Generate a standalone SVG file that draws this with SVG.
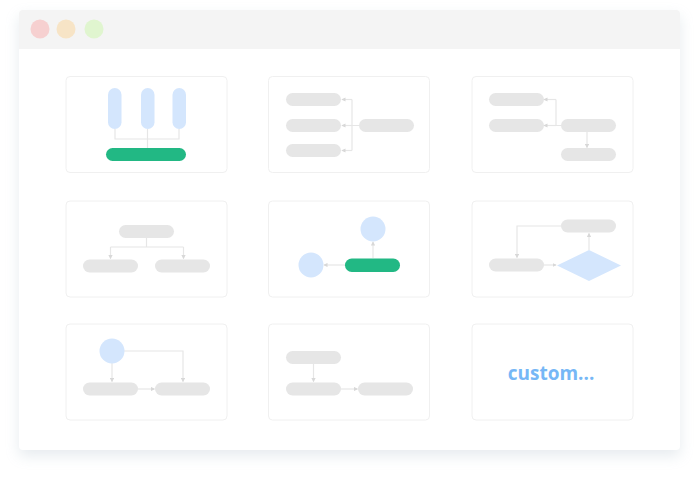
<svg xmlns="http://www.w3.org/2000/svg" width="700" height="479" viewBox="0 0 700 479">
<defs>
<filter id="sh" x="-10%" y="-10%" width="120%" height="130%">
<feDropShadow dx="0" dy="6" stdDeviation="7" flood-color="#c9d3dc" flood-opacity="0.45"/>
</filter>
<marker id="ar" viewBox="0 0 6 6" refX="5" refY="3" markerWidth="3.5" markerHeight="3.5" orient="auto">
<path d="M0,0 L6,3 L0,6 z" fill="#d8d8d8"/>
</marker>
<style>
.panel{fill:#fff;stroke:#f0f0f0;stroke-width:1}
.pill{fill:#e6e6e6}
.blue{fill:#d4e6fd}
.green{fill:#22b884}
.cn{fill:none;stroke:#e6e6e6;stroke-width:1.2}
.ca{fill:none;stroke:#e6e6e6;stroke-width:1.2;marker-end:url(#ar)}
</style>
</defs>
<rect width="700" height="479" fill="#fff"/>
<g id="window">
<rect x="19" y="10" width="661" height="440" rx="4" fill="#fff" filter="url(#sh)"/>
<path d="M23,10 H676 A4,4 0 0 1 680,14 V49 H19 V14 A4,4 0 0 1 23,10 z" fill="#f4f4f4"/>
<circle cx="40" cy="29" r="9.5" fill="#f6d0d0"/>
<circle cx="66" cy="29" r="9.5" fill="#f7e4c6"/>
<circle cx="94" cy="29" r="9.5" fill="#e0f5cf"/>
</g>
<g id="panels">
<rect class="panel" x="66" y="76.5" width="161" height="96" rx="4"/>
<rect class="panel" x="268.5" y="76.5" width="161" height="96" rx="4"/>
<rect class="panel" x="472" y="76.5" width="161" height="96" rx="4"/>
<rect class="panel" x="66" y="201" width="161" height="96" rx="4"/>
<rect class="panel" x="268.5" y="201" width="161" height="96" rx="4"/>
<rect class="panel" x="472" y="201" width="161" height="96" rx="4"/>
<rect class="panel" x="66" y="324" width="161" height="96" rx="4"/>
<rect class="panel" x="268.5" y="324" width="161" height="96" rx="4"/>
<rect class="panel" x="472" y="324" width="161" height="96" rx="4"/>
</g>
<g id="connectors">
<path class="cn" d="M115,129 V139 H179 V129 M147.5,129 V148"/>
<path class="cn" d="M359,125.5 H352 M352,99.5 V150.5"/>
<path class="ca" d="M352,99.5 H342"/>
<path class="ca" d="M352,125.5 H342"/>
<path class="ca" d="M352,150.5 H342"/>
<path class="cn" d="M561,125.5 H556 V99.5"/>
<path class="ca" d="M556,99.5 H544"/>
<path class="ca" d="M556,125.5 H544"/>
<path class="ca" d="M587,132 V147.5"/>
<path class="cn" d="M146.5,238 V247 M110.5,247 H183.5"/>
<path class="ca" d="M110.5,247 V258.5"/>
<path class="ca" d="M183.5,247 V258.5"/>
<path class="ca" d="M345,265 H324"/>
<path class="ca" d="M373,258 V242"/>
<path class="ca" d="M561,226 H517 V257.5"/>
<path class="ca" d="M589,250 V233.5"/>
<path class="ca" d="M543,265 H556"/>
<path class="ca" d="M112,363 V381.5"/>
<path class="ca" d="M124,351 H183 V381.5"/>
<path class="ca" d="M138,389 H154.5"/>
<path class="ca" d="M313.5,364 V381.5"/>
<path class="ca" d="M341,389 H357.5"/>
</g>
<g id="n1">
<rect class="blue" x="108" y="88" width="13.5" height="41" rx="6.75"/>
<rect class="blue" x="141" y="88" width="13.5" height="41" rx="6.75"/>
<rect class="blue" x="172.5" y="88" width="13.5" height="41" rx="6.75"/>
<rect class="green" x="106" y="148" width="80" height="13" rx="6.5"/>
</g>
<g id="n2">
<rect class="pill" x="286" y="93" width="55" height="13" rx="6.5"/>
<rect class="pill" x="286" y="119" width="55" height="13" rx="6.5"/>
<rect class="pill" x="286" y="144" width="55" height="13" rx="6.5"/>
<rect class="pill" x="359" y="119" width="55" height="13" rx="6.5"/>
</g>
<g id="n3">
<rect class="pill" x="489" y="93" width="55" height="13" rx="6.5"/>
<rect class="pill" x="489" y="119" width="55" height="13" rx="6.5"/>
<rect class="pill" x="561" y="119" width="55" height="13" rx="6.5"/>
<rect class="pill" x="561" y="148" width="55" height="13" rx="6.5"/>
</g>
<g id="n4">
<rect class="pill" x="119" y="225" width="55" height="13" rx="6.5"/>
<rect class="pill" x="83" y="259.5" width="55" height="13" rx="6.5"/>
<rect class="pill" x="155" y="259.5" width="55" height="13" rx="6.5"/>
</g>
<g id="n5">
<circle class="blue" cx="373" cy="229" r="12.5"/>
<circle class="blue" cx="311" cy="265" r="12.5"/>
<rect class="green" x="345" y="258.5" width="55" height="13.5" rx="6.75"/>
</g>
<g id="n6">
<rect class="pill" x="561" y="219.5" width="55" height="13" rx="6.5"/>
<rect class="pill" x="489" y="258.5" width="55" height="13" rx="6.5"/>
<polygon class="blue" points="589,250 621,265.5 589,281 557,265.5"/>
</g>
<g id="n7">
<circle class="blue" cx="112" cy="351" r="12.5"/>
<rect class="pill" x="83" y="382.5" width="55" height="13" rx="6.5"/>
<rect class="pill" x="155" y="382.5" width="55" height="13" rx="6.5"/>
</g>
<g id="n8">
<rect class="pill" x="286" y="351" width="55" height="13" rx="6.5"/>
<rect class="pill" x="286" y="382.5" width="55" height="13" rx="6.5"/>
<rect class="pill" x="358" y="382.5" width="55" height="13" rx="6.5"/>
</g>
<g id="n9">
<text x="551" y="380" text-anchor="middle" font-family="'Open Sans', 'Noto Sans', sans-serif" font-weight="700" font-size="19" fill="#76b7f6">custom...</text>
</g>
</svg>
